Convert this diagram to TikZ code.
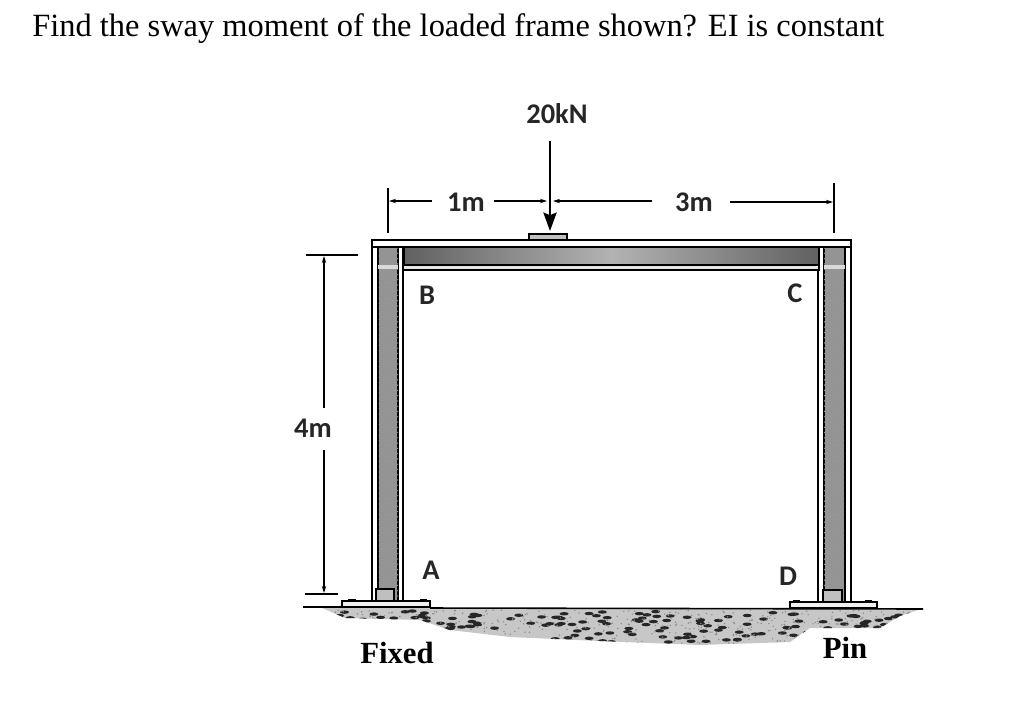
\documentclass[tikz,border=0pt]{standalone}
\usepackage{fontspec}
\setmainfont{Liberation Serif}
\newfontfamily\labelfont{Carlito}
\usetikzlibrary{patterns,arrows.meta}
\tikzset{%
  plate/.style={draw=black,line width=0.8pt,fill=white},
  web/.style={draw=black,line width=0.6pt,fill=black!42},
  grain/.style={pattern=crosshatch dots,pattern color=black!40},
  dlabel/.style={font=\labelfont\bfseries\fontsize{16.2}{16.2}\selectfont,inner sep=0,text=black!85},
  slabel/.style={font=\bfseries\fontsize{17.5}{17.5}\selectfont,inner sep=0},
  dimline/.style={line width=0.6pt},
  dimtip/.style={dimline,-{Stealth[length=4pt,width=2.5pt]}},
  bolt/.style={fill=black,line width=0pt}
}
\begin{document}
\begin{tikzpicture}[x=0.02cm,y=-0.02cm]
      \useasboundingbox (0,0) rectangle (1024,704);
      \node[inner sep=0,anchor=base west,font=\fontsize{18.46}{19}\selectfont] (title) at (32,36)
        {Find the sway moment of the loaded frame shown? EI is constant};
      % ground
      \fill[black!22] (322,608) -- (924,608) -- (900,616) -- (880,628) -- (810,628) -- (790,642)
        -- (700,645) -- (600,641) -- (510,637) -- (450,630) -- (420,620) -- (345,618) -- cycle;
      \begin{scope}
        \clip (322,608) -- (924,608) -- (900,616) -- (880,628) -- (810,628) -- (790,642)
          -- (700,645) -- (600,641) -- (510,637) -- (450,630) -- (420,620) -- (345,618) -- cycle;
        \pgfmathsetseed{42}
        \foreach \i in {1,...,190} {
          \pgfmathsetmacro{\gx}{330+590*rnd}
          \pgfmathsetmacro{\gy}{611+32*rnd}
          \fill[black!85] (\gx,\gy) ellipse (4.5 and 1.7);
        }
        \foreach \i in {1,...,500} {
          \pgfmathsetmacro{\gx}{330+590*rnd}
          \pgfmathsetmacro{\gy}{610+34*rnd}
          \fill[black!45] (\gx,\gy) circle (0.8);
        }
      \end{scope}
      \coordinate (g_1) at (303,607);
      \coordinate (g_2) at (342,607);
      \coordinate (g_3) at (430,608);
      \coordinate (g_4) at (923,609);
      \draw[line width=0.9pt] (g_1) -- (g_2);
      \draw[line width=0.9pt] (g_3) -- (g_4);
      % columns
      \draw[plate] (372,247) rectangle (403,601);
      \draw[plate] (818,247) rectangle (851,602);
      \draw[web] (378,247) rectangle (398,601);
      \draw[web] (824,247) rectangle (845,602);
      \fill[grain] (378,247) rectangle (398,601);
      \fill[grain] (824,247) rectangle (845,602);
      % beam
      \draw[line width=0.6pt,left color=black!62,right color=black!62,middle color=black!30] (404,247) rectangle (819,265);
      \fill[black] (402.5,247) rectangle (405,265);
      \fill[black] (817.5,247) rectangle (820,265);
      \draw[line width=0.6pt,fill=black!10] (403,265) rectangle (819,270);
      \fill[black!15] (378,265) rectangle (398,269);
      \fill[black!15] (824,265) rectangle (845,269);
      \draw[plate] (372,240) rectangle (851,247);
      \draw[line width=0.6pt,fill=black!25] (529,234) rectangle (567,240);
      % footings
      \draw[line width=0.7pt,fill=black!25] (376,589) rectangle (394,601);
      \draw[line width=0.7pt,fill=black!25] (823,590) rectangle (842,602);
      \draw[line width=0.7pt,fill=black!6] (342,601) rectangle (430,607);
      \draw[line width=0.7pt,fill=black!6] (790,602) rectangle (877,608);
      \fill[bolt] (348,599) rectangle (356,601);
      \fill[bolt] (420,599) rectangle (427,601);
      \fill[bolt] (793,600) rectangle (800,602);
      \fill[bolt] (865,600) rectangle (872,602);
      % labels
      \path
        (557,114) node[dlabel] (load){20kN}
        (466,202) node[dlabel] (span_1){1m}
        (694,202) node[dlabel] (span_2){3m}
        (313,428) node[dlabel] (height){4m}
        (427,295) node[dlabel] (B){B}
        (795,293) node[dlabel] (C){C}
        (431,570) node[dlabel] (A){A}
        (788,576) node[dlabel] (D){D}
        (397,653) node[slabel] (fixed){Fixed}
        (845,648) node[slabel] (pin){Pin};
      % load arrow
      \coordinate (p_1) at (550,141);
      \coordinate (p_2) at (550,231);
      \draw[line width=1.5pt,-{Stealth[length=10.5pt,width=7.5pt,inset=1.5pt]}] (p_1) -- (p_2);
      % span dimensions
      \coordinate (t_1) at (388,188);
      \coordinate (t_2) at (388,233);
      \coordinate (t_3) at (834,183);
      \coordinate (t_4) at (834,233);
      \coordinate (s_1) at (389,201);
      \coordinate (s_2) at (432,201);
      \coordinate (s_3) at (494,201);
      \coordinate (s_4) at (547,201);
      \coordinate (s_5) at (553,201);
      \coordinate (s_6) at (652,201);
      \coordinate (s_7) at (730,202);
      \coordinate (s_8) at (833,202);
      \draw[dimline] (t_1) -- (t_2);
      \draw[dimline] (t_3) -- (t_4);
      \draw[dimtip] (s_2) -- (s_1);
      \draw[dimtip] (s_3) -- (s_4);
      \draw[dimtip] (s_6) -- (s_5);
      \draw[dimtip] (s_7) -- (s_8);
      % height dimension
      \coordinate (h_1) at (306,255);
      \coordinate (h_2) at (358,255);
      \coordinate (h_3) at (305,594);
      \coordinate (h_4) at (338,594);
      \coordinate (v_1) at (324,408);
      \coordinate (v_2) at (324,256);
      \coordinate (v_3) at (324,450);
      \coordinate (v_4) at (324,593);
      \coordinate (v_5) at (324,478);
      \draw[dimline] (h_1) -- (h_2);
      \draw[dimline] (h_3) -- (h_4);
      \draw[dimtip] (v_1) -- (v_2);
      \draw[dimtip] (v_3) -- (v_4);
      \draw[line width=1.6pt] (v_3) -- (v_5);
    \end{tikzpicture}
\end{document}
